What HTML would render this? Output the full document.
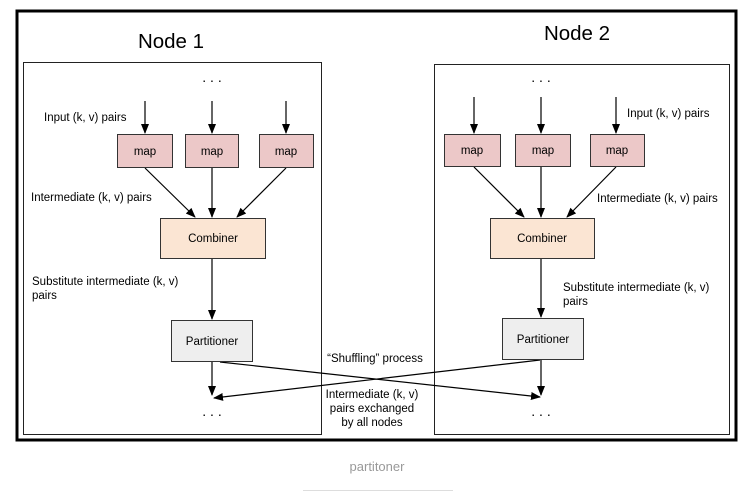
<!DOCTYPE html>
<html><head><style>
body{margin:0;width:753px;height:492px;background:#fff;overflow:hidden;font-family:"Liberation Sans",sans-serif}
</style></head><body>
<svg width="753" height="492" xmlns="http://www.w3.org/2000/svg" font-family="Liberation Sans, sans-serif">
<defs><marker id="a" markerWidth="10" markerHeight="10" refX="9" refY="5" orient="auto" markerUnits="userSpaceOnUse"><path d="M0,1 L10,5 L0,9 z" fill="#000"/></marker></defs>
<rect x="17" y="11" width="719" height="429" fill="#fff" stroke="#000" stroke-width="3"/>
<text x="171" y="48" font-size="20.5" text-anchor="middle">Node 1</text>
<text x="577" y="40" font-size="20.5" text-anchor="middle">Node 2</text>
<rect x="23.5" y="62.5" width="298" height="372" fill="none" stroke="#222"/>
<rect x="434.5" y="64.5" width="295" height="370" fill="none" stroke="#222"/>
<g font-size="11.5" fill="#000">
<text x="212" y="82" text-anchor="middle" font-size="14">. . .</text>
<text x="541" y="82" text-anchor="middle" font-size="14">. . .</text>
<text x="44" y="121">Input (k, v) pairs</text>
<text x="627" y="117">Input (k, v) pairs</text>
<text x="31" y="201">Intermediate (k, v) pairs</text>
<text x="597" y="202">Intermediate (k, v) pairs</text>
<text x="32" y="285">Substitute intermediate (k, v)</text>
<text x="32" y="299">pairs</text>
<text x="563" y="291">Substitute intermediate (k, v)</text>
<text x="563" y="305">pairs</text>
<text x="375" y="362" text-anchor="middle">“Shuffling” process</text>
<text x="372" y="398" text-anchor="middle">Intermediate (k, v)</text>
<text x="372" y="412" text-anchor="middle">pairs exchanged</text>
<text x="372" y="426" text-anchor="middle">by all nodes</text>
<text x="212" y="416" text-anchor="middle" font-size="14">. . .</text>
<text x="541" y="416" text-anchor="middle" font-size="14">. . .</text>
</g>
<g stroke="#000" stroke-width="1.2" marker-end="url(#a)">
<line x1="145" y1="101" x2="145" y2="133"/><line x1="212" y1="101" x2="212" y2="133"/><line x1="286" y1="101" x2="286" y2="133"/>
<line x1="474" y1="97" x2="474" y2="133"/><line x1="541" y1="97" x2="541" y2="133"/><line x1="616" y1="97" x2="616" y2="133"/>
<line x1="145" y1="168" x2="195" y2="217"/><line x1="212" y1="168" x2="212" y2="217"/><line x1="286" y1="168" x2="237" y2="217"/>
<line x1="474" y1="167" x2="524" y2="217"/><line x1="541" y1="167" x2="541" y2="217"/><line x1="616" y1="167" x2="567" y2="217"/>
<line x1="212" y1="259" x2="212" y2="319"/><line x1="541" y1="259" x2="541" y2="317"/>
<line x1="212" y1="362" x2="212" y2="395"/><line x1="541" y1="360" x2="541" y2="395"/>
<line x1="220" y1="362" x2="540" y2="397"/><line x1="540" y1="360" x2="214" y2="398"/>
</g>
<g stroke="#333" fill="#ecc8c8">
<rect x="117.5" y="134.5" width="55" height="33"/><rect x="185.5" y="134.5" width="53" height="33"/><rect x="259.5" y="134.5" width="54" height="33"/>
<rect x="444.5" y="134.5" width="56" height="32"/><rect x="515.5" y="134.5" width="55" height="32"/><rect x="590.5" y="134.5" width="54" height="32"/>
</g>
<g stroke="#333" fill="#fbe5d3"><rect x="160.5" y="218.5" width="105" height="40"/><rect x="490.5" y="218.5" width="104" height="40"/></g>
<g stroke="#333" fill="#eeeeee"><rect x="171.5" y="320.5" width="81" height="41"/><rect x="502.5" y="318.5" width="81" height="41"/></g>
<g font-size="11.5" text-anchor="middle">
<text x="145" y="155">map</text><text x="212" y="155">map</text><text x="286" y="155">map</text>
<text x="472" y="154">map</text><text x="543" y="154">map</text><text x="617" y="154">map</text>
<text x="213" y="242">Combiner</text><text x="542" y="242">Combiner</text>
<text x="212" y="345">Partitioner</text><text x="543" y="343">Partitioner</text>
</g>
<text x="377" y="471" font-size="13" fill="#999" text-anchor="middle">partitoner</text>
<line x1="303" y1="490.5" x2="453" y2="490.5" stroke="#ddd"/>
</svg>
</body></html>
